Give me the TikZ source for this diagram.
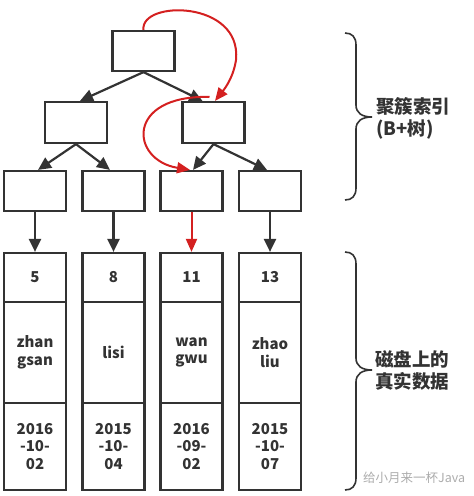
\documentclass[tikz,border=0pt]{standalone}
\usepackage{fontspec}
\setmainfont{Noto Sans CJK SC}
\usetikzlibrary{arrows.meta,calc}
\definecolor{ink}{HTML}{333333}
\definecolor{redink}{HTML}{D42020}
\begin{document}
\begin{tikzpicture}[x=1pt,y=-1pt,
  box/.style={draw=ink,line width=2.2pt,minimum width=62pt,minimum height=40pt,inner sep=0pt,fill=white},
  cell/.style={draw=ink,line width=2.2pt,minimum width=62pt,inner sep=0pt,text=ink,
    font=\bfseries\fontsize{15}{17.5}\selectfont,align=center},
  link/.style={ink,line width=2.2pt,-{Triangle[length=13pt,width=12pt]}},
  redlink/.style={redink,line width=2pt,-{Triangle[length=13pt,width=11pt]}},
  bracestyle/.style={draw=ink,line width=1.6pt},
  label/.style={text=ink,font=\bfseries\fontsize{18.5}{22}\selectfont,align=left,anchor=west,inner sep=0pt},
  wmark/.style={text=gray!65,font=\fontsize{12.5}{14}\selectfont,anchor=west,inner sep=0pt}]
\path[use as bounding box] (0,0) rectangle (474,496);

% index tree
\node[box] (root) at (143.5,51) {};
\node[box,minimum height=41pt] (la) at (76,122.5) {};
\node[box,minimum height=41pt] (lb) at (213.5,122.5) {};
\foreach \n/\x in {1/35,2/113.5,3/191.5,4/270}
  \node[box] (f\n) at (\x,191) {};

% data columns
\foreach \n/\x/\k/\nm/\d in {1/35/5/{zhan\\gsan}/{2016\\-10-\\02},
                             2/113.5/8/{lisi}/{2015\\-10-\\04},
                             3/191.5/11/{wan\\gwu}/{2016\\-09-\\02},
                             4/270/13/{zhao\\liu}/{2015\\-10-\\07}}{
  \node[cell,minimum height=49pt] (k\n) at (\x,277.5) {\k};
  \node[cell,minimum height=101pt] (m\n) at (\x,352.5) {\nm};
  \node[cell,minimum height=87pt] (d\n) at (\x,446.5) {\d};
}

% black connectors
\draw[link] (root.south) -- ([xshift=4pt]la.north);
\draw[link] (root.south) -- ([xshift=-11pt]lb.north);
\draw[link] (la.south) -- ([xshift=3pt]f1.north);
\draw[link] (la.south) -- ([xshift=-3.5pt]f2.north);
\draw[link] (lb.south) -- ([xshift=1.5pt]f3.north);
\draw[link] (lb.south) -- ([xshift=-3pt]f4.north);
\draw[link] (f1.south) -- (k1.north);
\draw[link] (f2.south) -- (k2.north);
\draw[link] (f4.south) -- (k4.north);

% red search path
\draw[redlink] (root.north) .. controls (140,0) and (242,0) .. (236,60)
  .. controls (233,80) and (222,92) .. ([xshift=1.5pt]lb.north);
\draw[redlink] ([xshift=-4pt,yshift=4pt]lb.north) .. controls (125,95) and (130,160) .. ([xshift=-1.5pt]f3.north);
\draw[redlink] (f3.south) -- (k3.north);

% braces
\draw[bracestyle] (345,33) .. controls (352,33) and (356,37) .. (356,45) -- (356,105)
  .. controls (356,113) and (362,117) .. (372,117)
  .. controls (362,117) and (356,121) .. (356,129) -- (356,188)
  .. controls (356,196) and (352,200) .. (345,200);
\draw[bracestyle] (345,252) .. controls (352,252) and (356,256) .. (356,264) -- (356,358)
  .. controls (356,366) and (362,370) .. (372,370)
  .. controls (362,370) and (356,374) .. (356,382) -- (356,478)
  .. controls (356,486) and (352,490) .. (345,490);

% labels
\node[label] (t1) at (376,118) {聚簇索引\\(B+树)};
\node[label] (t2) at (375,370) {磁盘上的\\真实数据};
\node[wmark] (wm) at (363,478) {给小月来一杯Java};
\end{tikzpicture}
\end{document}
